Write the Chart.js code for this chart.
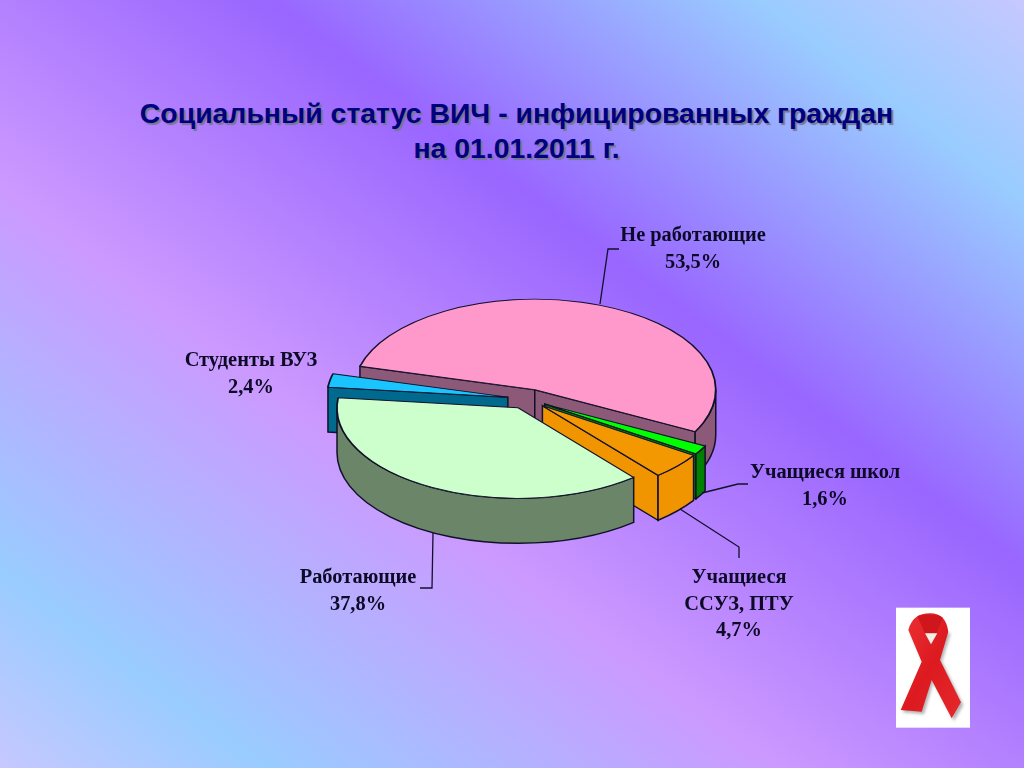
<!DOCTYPE html>
<html>
<head>
<meta charset="utf-8">
<script src="https://cdn.jsdelivr.net/npm/chart.js@4"></script>
<style>
  html, body { margin: 0; padding: 0; width: 1024px; height: 768px; overflow: hidden; }
  body { position: relative; background: linear-gradient(to bottom left, #c6c8ff 0%, #99ccff 13%, #9966ff 37%, #cc99ff 62%, #99ccff 87%, #c6c8ff 100%); }
  canvas { position: absolute; left: 0; top: 0; }
  h1 { position: absolute; left: 0; top: 96px; width: 1033px; margin: 0; text-align: center;
       font: bold 28.4px/35px "Liberation Sans", Arial, sans-serif; color: #000080; text-shadow: 2px 2px 1px #77778f; }
  svg { position: absolute; left: 880px; top: 595px; }
</style>
</head>
<body>
<h1>Социальный статус ВИЧ - инфицированных граждан<br>на 01.01.2011 г.</h1>
<canvas id="chart" width="1024" height="768"></canvas>
<svg width="100" height="140" viewBox="0 0 300 420">
  <defs>
    <filter id="soft"><feGaussianBlur stdDeviation="5"/></filter>
    <linearGradient id="red" x1="0" y1="0" x2="1" y2="1">
      <stop offset="0" stop-color="#ee3236"/><stop offset="0.5" stop-color="#dc1a20"/><stop offset="1" stop-color="#e5282b"/>
    </linearGradient>
  </defs>
  <rect x="48" y="38" width="222" height="360" fill="#fff"/>
  <path d="M90,112 L130,205 L68,352 L132,358 L160,262 L222,378 L250,330 L186,200 L212,115 Z" fill="#b4b4b4" filter="url(#soft)"/>
  <path d="M85,105 C95,70 115,55 150,55 C185,55 200,75 205,110 L180,195 L243,322 L215,370 L155,255 L125,350 L62,345 L125,200 Z" fill="url(#red)"/>
  <path d="M112,64 C125,56 175,56 188,68 L170,115 L135,115 Z" fill="#cf161d"/>
  <path d="M135,115 L172,115 L153,148 Z" fill="#f2efe8"/>
</svg>
<script>
const categories = ['Не работающие', 'Учащиеся школ', 'Учащиеся ССУЗ, ПТУ', 'Работающие', 'Студенты ВУЗ'];
const shares = [53.5, 1.6, 4.7, 37.8, 2.4];
const labelLines = [['Не работающие'], ['Учащиеся школ'], ['Учащиеся', 'ССУЗ, ПТУ'], ['Работающие'], ['Студенты ВУЗ']];

const topColors = ['#ff99cc', '#00ff00', '#f39800', '#ccffcc', '#19c4ff'];
const wallColors = ['#8c5a78', '#008000', '#f09400', '#6b8569', '#006a8e'];
// back to front, this is how the 3d slices overlap
const paintOrder = [0, 4, 1, 2, 3];

// label centre x, first line y
const labelSpots = [[693, 236], [825, 473], [739, 578], [358, 578], [251, 361]];
const leaders = [
  [[600, 304], [608, 249], [619, 249]],
  [[702, 493], [738, 484], [748, 484]],
  [[680, 509], [739, 547], [739, 558]],
  [[433, 533], [432, 588], [420, 588]],
];

const squash = 0.5;
const depth = 45;
const explode = 20;
const edge = '#12102a';

function wall(ctx, pts) {
  ctx.beginPath();
  pts.forEach((p, i) => (i ? ctx.lineTo(p[0], p[1]) : ctx.moveTo(p[0], p[1])));
  ctx.closePath();
  ctx.fill();
  ctx.stroke();
}

function drawWalls(ctx, arc, color, cx, cy) {
  const r = arc.outerRadius;
  const a0 = arc.startAngle;
  const a1 = arc.endAngle;
  const rim = a => [cx + Math.cos(a) * r, cy + Math.sin(a) * r * squash];
  ctx.fillStyle = color;
  ctx.strokeStyle = edge;
  ctx.lineWidth = 1.5;
  // only the cut faces turned to the viewer
  if (-Math.cos(a0) > 0) {
    const p = rim(a0);
    wall(ctx, [[cx, cy], p, [p[0], p[1] + depth], [cx, cy + depth]]);
  }
  if (Math.cos(a1) > 0) {
    const p = rim(a1);
    wall(ctx, [[cx, cy], p, [p[0], p[1] + depth], [cx, cy + depth]]);
  }
  // outer band, front half of the ellipse
  const turns = Math.PI * 2;
  for (const k of [-1, 0, 1, 2]) {
    const from = Math.max(a0, k * turns);
    const to = Math.min(a1, k * turns + Math.PI);
    if (to <= from) continue;
    ctx.beginPath();
    ctx.ellipse(cx, cy, r, r * squash, 0, from, to);
    ctx.ellipse(cx, cy + depth, r, r * squash, 0, to, from, true);
    ctx.closePath();
    ctx.fill();
    ctx.stroke();
  }
}

const pie3d = {
  id: 'pie3d',
  beforeDatasetDraw(chart) {
    const ctx = chart.ctx;
    const arcs = chart.getDatasetMeta(0).data;
    paintOrder.forEach(i => {
      const arc = arcs[i];
      const mid = (arc.startAngle + arc.endAngle) / 2;
      const dx = Math.cos(mid) * explode;
      const dy = Math.sin(mid) * explode;
      drawWalls(ctx, arc, wallColors[i], arc.x + dx, arc.y + dy * squash);
      ctx.save();
      ctx.translate(arc.x, arc.y);
      ctx.scale(1, squash);
      ctx.translate(-arc.x + dx, -arc.y + dy);
      arc.draw(ctx);
      ctx.restore();
    });
    return false;
  },
  afterDraw(chart) {
    const ctx = chart.ctx;
    ctx.save();
    ctx.strokeStyle = edge;
    ctx.lineWidth = 1.3;
    leaders.forEach(line => {
      ctx.beginPath();
      line.forEach((p, i) => (i ? ctx.lineTo(p[0], p[1]) : ctx.moveTo(p[0], p[1])));
      ctx.stroke();
    });
    ctx.fillStyle = '#0c0a26';
    ctx.font = 'bold 20.4px "Liberation Serif", "Times New Roman", serif';
    ctx.textAlign = 'center';
    ctx.textBaseline = 'middle';
    categories.forEach((name, i) => {
      const rows = labelLines[i].concat(shares[i].toFixed(1).replace('.', ',') + '%');
      rows.forEach((row, n) => ctx.fillText(row, labelSpots[i][0], labelSpots[i][1] + n * 26.5));
    });
    ctx.restore();
  },
};

new Chart(document.getElementById('chart'), {
  type: 'pie',
  data: {
    labels: categories,
    datasets: [{
      data: shares,
      backgroundColor: topColors,
      borderColor: edge,
      borderWidth: 1.8,
    }],
  },
  options: {
    responsive: false,
    animation: false,
    events: [],
    rotation: 285,
    radius: 181,
    layout: { padding: { left: 31, top: 30 } },
    plugins: { legend: { display: false }, tooltip: { enabled: false } },
  },
  plugins: [pie3d],
});
</script>
</body>
</html>
